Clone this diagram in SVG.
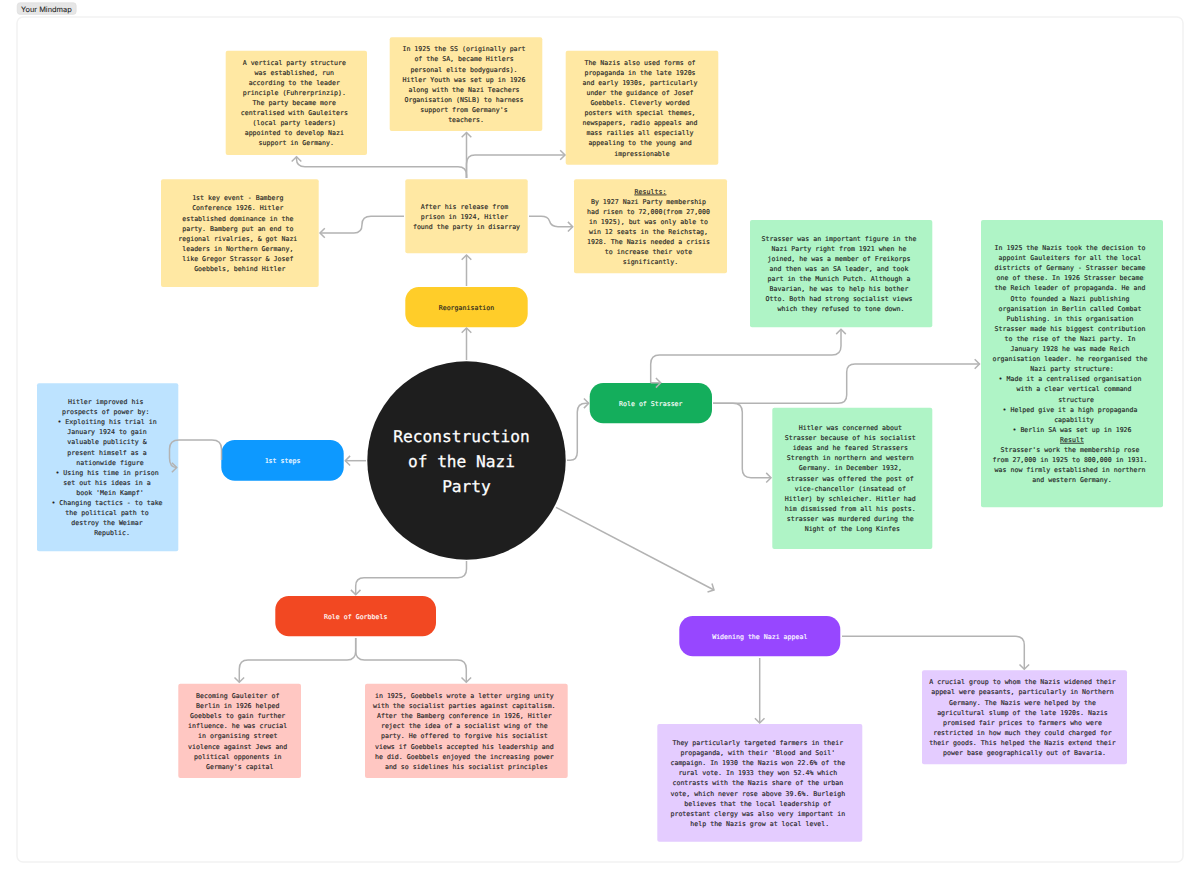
<svg xmlns="http://www.w3.org/2000/svg" width="1200" height="879" viewBox="0 0 1200 879">
<style>
text{font-family:"DejaVu Sans Mono","Liberation Mono",monospace;text-anchor:middle;text-rendering:geometricPrecision}
.t{font-size:6.6px;fill:#1e1e1e;stroke:#1e1e1e;stroke-width:.14}
.l{font-size:6.6px}
.w{fill:#fff;stroke:#fff;stroke-width:.14}
.d{fill:#1e1e1e;stroke:#1e1e1e;stroke-width:.14}
.y{fill:#ffe8a3}.g{fill:#aff4c6}.b{fill:#bde3ff}.r{fill:#ffc7c2}.p{fill:#e4ccff}
.c{fill:none;stroke:#b3b3b3;stroke-width:1.5;marker-end:url(#a)}
.u{text-decoration:underline}
</style>
<defs><marker id="a" markerUnits="userSpaceOnUse" markerWidth="12" markerHeight="12" refX="6.8" refY="6" orient="auto"><path d="M2 1.2L6.8 6L2 10.8" fill="none" stroke="#b3b3b3" stroke-width="1.5"/></marker></defs>
<rect x="0" y="0" width="1200" height="879" fill="#fff"/>
<rect x="17" y="17" width="1166" height="845" rx="6" fill="#fff" stroke="#f2f2f2" stroke-width="1.5"/>
<g id="title-button"><rect x="17.2" y="2.7" width="59" height="11.7" rx="3" fill="#e6e6e6" stroke="#dcdcdc" stroke-width=".6"/><text x="46.4" y="11.5" style="font-family:Inter,sans-serif;font-size:7.4px;stroke:#1e1e1e;stroke-width:.08" fill="#1e1e1e">Your Mindmap</text></g>
<g id="central"><circle cx="466.5" cy="460.5" r="99.2" fill="#1e1e1e"/><text style="font-size:16.2px;stroke-width:.25" class="w"><tspan x="461.5" y="442.3">Reconstruction</tspan><tspan x="461.5" y="467.3">of the Nazi</tspan><tspan x="466.5" y="492.3">Party</tspan></text></g>
<g id="reorganisation"><rect x="405.3" y="287" width="122.4" height="40.3" rx="13.5" fill="#ffcd29"/><text class="l d" x="466.5" y="309.6">Reorganisation</text></g>
<g id="strasser"><rect x="589.7" y="383" width="122.3" height="40.3" rx="13.5" fill="#14ae5c"/><text class="l w" x="650.8" y="405.6">Role of Strasser</text></g>
<g id="first-steps"><rect x="221.3" y="440" width="122.4" height="40.7" rx="13.5" fill="#0d99ff"/><text class="l w" x="282.5" y="463">1st steps</text></g>
<g id="gorbbels"><rect x="275.3" y="596" width="160.7" height="40.3" rx="13.5" fill="#f24822"/><text class="l w" x="355.7" y="618.6">Role of Gorbbels</text></g>
<g id="widening"><rect x="679.3" y="616" width="161" height="40.3" rx="13.5" fill="#9747ff"/><text class="l w" x="759.8" y="639">Widening the Nazi appeal</text></g>
<g id="n-vertical"><rect class="y" x="225.7" y="50.7" width="141.3" height="104.3" rx="2"/><text class="t"><tspan x="294.3" y="64.6">A vertical party structure</tspan><tspan x="294.3" dy="10.1">was established, run</tspan><tspan x="294.3" dy="10.1">according to the leader</tspan><tspan x="294.3" dy="10.1">principle (Fuhrerprinzip).</tspan><tspan x="294.3" dy="10.1">The party became more</tspan><tspan x="294.3" dy="10.1">centralised with Gauleiters</tspan><tspan x="294.3" dy="10.1">(local party leaders)</tspan><tspan x="294.3" dy="10.1">appointed to develop Nazi</tspan><tspan x="296.3" dy="10.1">support in Germany.</tspan></text></g>
<g id="n-bamberg"><rect class="y" x="161" y="179.3" width="157.7" height="107.7" rx="2"/><text class="t"><tspan x="237.8" y="200.3">1st key event - Bamberg</tspan><tspan x="237.8" dy="10.1">Conference 1926. Hitler</tspan><tspan x="237.8" dy="10.1">established dominance in the</tspan><tspan x="237.8" dy="10.1">party. Bamberg put an end to</tspan><tspan x="237.8" dy="10.1">regional rivalries, &amp; got Nazi</tspan><tspan x="237.8" dy="10.1">leaders in Northern Germany,</tspan><tspan x="237.8" dy="10.1">like Gregor Strassor &amp; Josef</tspan><tspan x="239.8" dy="10.1">Goebbels, behind Hitler</tspan></text></g>
<g id="n-ss"><rect class="y" x="389.7" y="37.3" width="152.6" height="93.7" rx="2"/><text class="t"><tspan x="464" y="51.3">In 1925 the SS (originally part</tspan><tspan x="464" dy="10.1">of the SA, became Hitlers</tspan><tspan x="464" dy="10.1">personal elite bodyguards).</tspan><tspan x="464" dy="10.1">Hitler Youth was set up in 1926</tspan><tspan x="464" dy="10.1">along with the Nazi Teachers</tspan><tspan x="464" dy="10.1">Organisation (NSLB) to harness</tspan><tspan x="464" dy="10.1">support from Germany's</tspan><tspan x="466" dy="10.1">teachers.</tspan></text></g>
<g id="n-propaganda"><rect class="y" x="565.7" y="50.7" width="152.6" height="114" rx="2"/><text class="t"><tspan x="640" y="64.6">The Nazis also used forms of</tspan><tspan x="640" dy="10.1">propaganda in the late 1920s</tspan><tspan x="640" dy="10.1">and early 1930s, particularly</tspan><tspan x="640" dy="10.1">under the guidance of Josef</tspan><tspan x="640" dy="10.1">Goebbels. Cleverly worded</tspan><tspan x="640" dy="10.1">posters with special themes,</tspan><tspan x="640" dy="10.1">newspapers, radio appeals and</tspan><tspan x="640" dy="10.1">mass railies all especially</tspan><tspan x="640" dy="10.1">appealing to the young and</tspan><tspan x="642" dy="10.1">impressionable</tspan></text></g>
<g id="n-release"><rect class="y" x="405.3" y="179.3" width="122.4" height="74" rx="2"/><text class="t"><tspan x="464.5" y="208.6">After his release from</tspan><tspan x="464.5" dy="10.1">prison in 1924, Hitler</tspan><tspan x="466.5" dy="10.1">found the party in disarray</tspan></text></g>
<g id="n-results"><rect class="y" x="574" y="179.3" width="153" height="94" rx="2"/><text class="t"><tspan class="u" x="650.5" y="193.6">Results:</tspan><tspan x="648.5" dy="10.1">By 1927 Nazi Party membership</tspan><tspan x="648.5" dy="10.1">had risen to 72,000(from 27,000</tspan><tspan x="648.5" dy="10.1">in 1925), but was only able to</tspan><tspan x="648.5" dy="10.1">win 12 seats in the Reichstag,</tspan><tspan x="648.5" dy="10.1">1928. The Nazis needed a crisis</tspan><tspan x="648.5" dy="10.1">to increase their vote</tspan><tspan x="650.5" dy="10.1">significantly.</tspan></text></g>
<g id="n-strasser-figure"><rect class="g" x="750" y="220" width="182.3" height="107.3" rx="2"/><text class="t"><tspan x="839" y="240.6">Strasser was an important figure in the</tspan><tspan x="839" dy="10.1">Nazi Party right from 1921 when he</tspan><tspan x="839" dy="10.1">joined, he was a member of Freikorps</tspan><tspan x="839" dy="10.1">and then was an SA leader, and took</tspan><tspan x="839" dy="10.1">part in the Munich Putch. Although a</tspan><tspan x="839" dy="10.1">Bavarian, he was to help his bother</tspan><tspan x="839" dy="10.1">Otto. Both had strong socialist views</tspan><tspan x="841" dy="10.1">which they refused to tone down.</tspan></text></g>
<g id="n-strasser-concern"><rect class="g" x="772.3" y="407.7" width="160" height="141.3" rx="2"/><text class="t"><tspan x="850.3" y="430">Hitler was concerned about</tspan><tspan x="850.3" dy="10.1">Strasser because of his socialist</tspan><tspan x="850.3" dy="10.1">ideas and he feared Strassers</tspan><tspan x="850.3" dy="10.1">Strength in northern and western</tspan><tspan x="850.3" dy="10.1">Germany. in December 1932,</tspan><tspan x="850.3" dy="10.1">strasser was offered the post of</tspan><tspan x="850.3" dy="10.1">vice-chancellor (insatead of</tspan><tspan x="850.3" dy="10.1">Hitler) by schleicher. Hitler had</tspan><tspan x="850.3" dy="10.1">him dismissed from all his posts.</tspan><tspan x="850.3" dy="10.1">strasser was murdered during the</tspan><tspan x="852.3" dy="10.1">Night of the Long Kinfes</tspan></text></g>
<g id="n-strasser-big"><rect class="g" x="981" y="220" width="182" height="287.3" rx="2"/><text class="t"><tspan x="1070" y="250">In 1925 the Nazis took the decision to</tspan><tspan x="1070" dy="10.1">appoint Gauleiters for all the local</tspan><tspan x="1070" dy="10.1">districts of Germany - Strasser became</tspan><tspan x="1070" dy="10.1">one of these. In 1926 Strasser became</tspan><tspan x="1070" dy="10.1">the Reich leader of propaganda. He and</tspan><tspan x="1070" dy="10.1">Otto founded a Nazi publishing</tspan><tspan x="1070" dy="10.1">organisation in Berlin called Combat</tspan><tspan x="1070" dy="10.1">Publishing. in this organisation</tspan><tspan x="1070" dy="10.1">Strasser made his biggest contribution</tspan><tspan x="1070" dy="10.1">to the rise of the Nazi party. In</tspan><tspan x="1070" dy="10.1">January 1928 he was made Reich</tspan><tspan x="1070" dy="10.1">organisation leader. he reorganised the</tspan><tspan x="1072" dy="10.1">Nazi party structure:</tspan><tspan x="1070" dy="10.1">• Made it a centralised organisation</tspan><tspan x="1074" dy="10.1">with a clear vertical command</tspan><tspan x="1076" dy="10.1">structure</tspan><tspan x="1070" dy="10.1">• Helped give it a high propaganda</tspan><tspan x="1074" dy="10.1">capability</tspan><tspan x="1072" dy="10.1">• Berlin SA was set up in 1926</tspan><tspan class="u" x="1072" dy="10.1">Result</tspan><tspan x="1070" dy="10.1">Strasser's work the membership rose</tspan><tspan x="1070" dy="10.1">from 27,000 in 1925 to 800,000 in 1931.</tspan><tspan x="1070" dy="10.1">was now firmly established in northern</tspan><tspan x="1072" dy="10.1">and western Germany.</tspan></text></g>
<g id="n-hitler"><rect class="b" x="37" y="383.3" width="141.3" height="168" rx="2"/><text class="t"><tspan x="105.7" y="404">Hitler improved his</tspan><tspan x="105.7" dy="10.1">prospects of power by:</tspan><tspan x="107" dy="10.1">• Exploiting his trial in</tspan><tspan x="107" dy="10.1">January 1924 to gain</tspan><tspan x="107" dy="10.1">valuable publicity &amp;</tspan><tspan x="107" dy="10.1">present himself as a</tspan><tspan x="110" dy="10.1">nationwide figure</tspan><tspan x="107" dy="10.1">• Using his time in prison</tspan><tspan x="107" dy="10.1">set out his ideas in a</tspan><tspan x="110" dy="10.1">book 'Mein Kampf'</tspan><tspan x="107" dy="10.1">• Changing tactics - to take</tspan><tspan x="107" dy="10.1">the political path to</tspan><tspan x="107" dy="10.1">destroy the Weimar</tspan><tspan x="112" dy="10.1">Republic.</tspan></text></g>
<g id="n-goebbels-berlin"><rect class="r" x="178.3" y="683.7" width="122.7" height="94.3" rx="2"/><text class="t"><tspan x="237.7" y="698">Becoming Gauleiter of</tspan><tspan x="237.7" dy="10.1">Berlin in 1926 helped</tspan><tspan x="237.7" dy="10.1">Goebbels to gain further</tspan><tspan x="237.7" dy="10.1">influence. he was crucial</tspan><tspan x="237.7" dy="10.1">in organising street</tspan><tspan x="237.7" dy="10.1">violence against Jews and</tspan><tspan x="237.7" dy="10.1">political opponents in</tspan><tspan x="239.7" dy="10.1">Germany's capital</tspan></text></g>
<g id="n-goebbels-letter"><rect class="r" x="365" y="683.7" width="202.7" height="94.3" rx="2"/><text class="t"><tspan x="464.3" y="698">in 1925, Goebbels wrote a letter urging unity</tspan><tspan x="464.3" dy="10.1">with the socialist parties against capitalism.</tspan><tspan x="464.3" dy="10.1">After the Bamberg conference in 1926, Hitler</tspan><tspan x="464.3" dy="10.1">reject the idea of a socialist wing of the</tspan><tspan x="464.3" dy="10.1">party. He offered to forgive his socialist</tspan><tspan x="464.3" dy="10.1">views if Goebbels accepted his leadership and</tspan><tspan x="464.3" dy="10.1">he did. Goebbels enjoyed the increasing power</tspan><tspan x="466.3" dy="10.1">and so sidelines his socialist principles</tspan></text></g>
<g id="n-farmers"><rect class="p" x="657.3" y="724" width="205" height="117.7" rx="2"/><text class="t"><tspan x="757.8" y="745">They particularly targeted farmers in their</tspan><tspan x="757.8" dy="10.1">propaganda, with their 'Blood and Soil'</tspan><tspan x="757.8" dy="10.1">campaign. In 1930 the Nazis won 22.6% of the</tspan><tspan x="757.8" dy="10.1">rural vote. In 1933 they won 52.4% which</tspan><tspan x="757.8" dy="10.1">contrasts with the Nazis share of the urban</tspan><tspan x="757.8" dy="10.1">vote, which never rose above 39.6%. Burleigh</tspan><tspan x="757.8" dy="10.1">believes that the local leadership of</tspan><tspan x="757.8" dy="10.1">protestant clergy was also very important in</tspan><tspan x="759.8" dy="10.1">help the Nazis grow at local level.</tspan></text></g>
<g id="n-peasants"><rect class="p" x="922" y="670.3" width="205" height="94" rx="2"/><text class="t"><tspan x="1022.5" y="684.3">A crucial group to whom the Nazis widened their</tspan><tspan x="1022.5" dy="10.1">appeal were peasants, particularly in Northern</tspan><tspan x="1022.5" dy="10.1">Germany. The Nazis were helped by the</tspan><tspan x="1022.5" dy="10.1">agricultural slump of the late 1920s. Nazis</tspan><tspan x="1022.5" dy="10.1">promised fair prices to farmers who were</tspan><tspan x="1022.5" dy="10.1">restricted in how much they could charged for</tspan><tspan x="1022.5" dy="10.1">their goods. This helped the Nazis extend their</tspan><tspan x="1024.5" dy="10.1">power base geographically out of Bavaria.</tspan></text></g>
<g id="connectors">
<path class="c" d="M466.5 360V328"/>
<path class="c" d="M466.5 286V255"/>
<path class="c" d="M466.5 178V175Q466.5 166.7 458 166.7H305Q296.5 166.7 296.5 159V156.7"/>
<path class="c" d="M466.5 178V132.5"/>
<path class="c" d="M466.5 178V164Q466.5 155 475 155H565"/>
<path class="c" d="M404 216.3H371Q362 216.3 362 224.5Q362 233 354 233H320"/>
<path class="c" d="M529 216.3H541Q548 216.3 549.5 221Q551 226.7 558 226.7H572.7"/>
<path class="c" d="M567 460.3H570Q577.3 460.3 577.3 452V412Q577.3 403.3 586 403.3H588.7"/>
<path class="c" d="M650.7 383V364Q650.7 355 659.5 355H832Q841 355 841 346V329.3"/>
<path class="c" d="M650.7 382.8H660.7"/>
<path class="c" d="M713 403.3H838Q846.7 403.3 846.7 395V372Q846.7 364 855 364H979.5"/>
<path class="c" d="M713 403.3H733Q742.3 403.3 742.3 412V469Q742.3 477.7 751 477.7H771"/>
<path class="c" d="M366 460.7H345.3"/>
<path class="c" d="M466.5 561V569Q466.5 577.7 458 577.7H364Q355.7 577.7 355.7 586V594.7"/>
<path class="c" d="M355.7 638V651Q355.7 660 347 660H248Q239.3 660 239.3 669V682.3"/>
<path class="c" d="M355.7 638V651Q355.7 660 364.5 660H457.5Q466.3 660 466.3 669V682.3"/>
<path class="c" d="M556 507.3L714 590"/>
<path class="c" d="M759.7 658V723"/>
<path class="c" d="M842 636.3H1015Q1024.3 636.3 1024.3 645V669.3"/>
<path class="c" d="M221.5 460V449Q221.5 440 212 440H179Q169.5 440 169.5 449V458Q169.5 467.5 176.7 467.5"/>
</g>
</svg>
